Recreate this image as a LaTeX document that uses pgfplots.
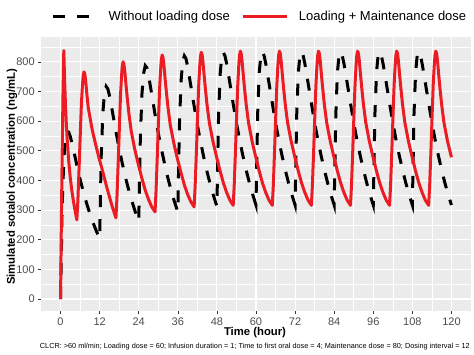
\documentclass[border=0pt]{standalone}
\usepackage{fontspec}
\setmainfont{Liberation Sans}
\usepackage{pgfplots}
\pgfplotsset{compat=1.18}
\definecolor{ggbg}{HTML}{EBEBEB}
\definecolor{ggred}{RGB}{236,28,36}
\definecolor{gray30}{HTML}{4D4D4D}
\definecolor{gray20}{HTML}{333333}
\begin{document}
\begin{tikzpicture}
\path[use as bounding box] (0,0) rectangle (474pt,355pt);
\begin{axis}[
  at={(41pt,43.5pt)}, anchor=south west,
  width=430pt, height=274pt, scale only axis,
  xmin=-6, xmax=126, ymin=-42, ymax=882,
  xtick={0,12,...,120}, ytick={0,100,...,800},
  minor xtick={6,18,...,114}, minor ytick={50,150,...,850},
  grid=both,
  major grid style={white, line width=1.1pt},
  minor grid style={white, line width=0.55pt},
  axis background/.style={fill=ggbg},
  axis line style={draw=none},
  tick pos=left, tick align=outside,
  major tick length=2.75pt, minor tick length=0pt,
  major tick style={gray20, line width=0.55pt},
  ticklabel style={font=\fontsize{11}{12}\selectfont, text=gray30},
  /pgf/number format/assume math mode=true,
  /pgf/number format/1000 sep={},
  legend columns=2,
  legend style={at={(0.509,1.078)}, anchor=center, draw=none, fill=none,
    font=\fontsize{13}{15}\selectfont, inner sep=0pt,
    /tikz/every odd column/.append style={column sep=8pt},
    /tikz/every even column/.append style={column sep=10pt}},
  legend image code/.code={\draw[#1] (0pt,0pt) -- (44pt,0pt);},
]
\addplot[black, line width=3pt, dash pattern=on 12pt off 12pt] coordinates {
(0,0) (0.5,314) (1,470) (1.5,541) (2,565) (2.5,563) (3,548) (4,502) (5,452) (6,404) (7,361) (8,323) (9,288) (10,257) (11,229) (12,204)
(12.5,488) (13,630) (13.5,695) (14,717) (14.5,709) (15,687) (16,627) (17,565) (18,507) (19,455) (20,407) (21,365) (22,327) (23,292) (24,262)
(24.5,546) (25,693) (25.5,761) (26,787) (26.5,780) (27,755) (28,690) (29,623) (30,560) (31,504) (32,453) (33,406) (34,364) (35,327) (36,294)
(36.5,590) (37,736) (37.5,801) (38,820) (38.5,811) (39,785) (40,719) (41,651) (42,587) (43,529) (44,476) (45,428) (46,385) (47,347) (48,312)
(48.5,615) (49,760) (49.5,819) (50,831) (50.5,819) (51,793) (52,727) (53,658) (54,594) (55,535) (56,482) (57,434) (58,391) (59,352) (60,317)
(60.5,622) (61,765) (61.5,823) (62,834) (62.5,820) (63,794) (64,728) (65,660) (66,595) (67,536) (68,483) (69,435) (70,391) (71,352) (72,317)
(72.5,622) (73,765) (73.5,823) (74,834) (74.5,820) (75,794) (76,728) (77,660) (78,595) (79,536) (80,483) (81,435) (82,391) (83,352) (84,317)
(84.5,622) (85,765) (85.5,823) (86,834) (86.5,820) (87,794) (88,728) (89,660) (90,595) (91,536) (92,483) (93,435) (94,391) (95,352) (96,317)
(96.5,622) (97,765) (97.5,823) (98,834) (98.5,820) (99,794) (100,728) (101,660) (102,595) (103,536) (104,483) (105,435) (106,391) (107,352) (108,317)
(108.5,622) (109,765) (109.5,823) (110,834) (110.5,820) (111,794) (112,728) (113,660) (114,595) (115,536) (116,483) (117,435) (118,391) (119,352) (120,317)
};
\addlegendentry{Without loading dose}
\addplot[ggred, line width=3pt, line join=round] coordinates {
(0,0) (0.25,260) (0.5,490) (0.75,690) (1,838) (1.25,739) (1.5,660) (1.75,597) (2,545) (2.5,466) (3,408) (3.5,363) (4,327) (4.5,296) (5,267)
(5.3,328) (5.7,444) (6.1,569) (6.4,657) (6.7,717) (6.95,753) (7.2,766) (7.45,759) (7.75,732) (8.1,689) (8.5,645) (9,615) (9.7,572) (10.8,520) (11.9,472) (13,428) (14,385) (15,345) (16,307) (17,274)
(17.3,338) (17.7,460) (18.1,592) (18.4,685) (18.7,748) (18.95,786) (19.2,800) (19.45,792) (19.75,765) (20.1,721) (20.5,676) (21,624) (21.7,566) (22.8,504) (23.9,453) (25,406) (26,367) (27,336) (28,311) (29,294)
(29.3,359) (29.7,481) (30.1,614) (30.4,707) (30.7,771) (30.95,809) (31.2,823) (31.45,815) (31.75,788) (32.1,743) (32.5,697) (33,645) (33.7,586) (34.8,524) (35.9,472) (37,425) (38,385) (39,353) (40,328) (41,311)
(41.3,375) (41.7,495) (42.1,626) (42.4,718) (42.7,781) (42.95,818) (43.2,832) (43.45,824) (43.75,796) (44.1,752) (44.5,705) (45,652) (45.7,593) (46.8,531) (47.9,479) (49,431) (50,391) (51,359) (52,333) (53,316)
(53.3,379) (53.7,500) (54.1,631) (54.4,722) (54.7,785) (54.95,822) (55.2,836) (55.45,828) (55.75,800) (56.1,755) (56.5,708) (57,655) (57.7,595) (58.8,532) (59.9,480) (61,431) (62,391) (63,359) (64,333) (65,316)
(65.3,379) (65.7,500) (66.1,631) (66.4,722) (66.7,785) (66.95,822) (67.2,836) (67.45,828) (67.75,800) (68.1,755) (68.5,708) (69,655) (69.7,595) (70.8,532) (71.9,480) (73,431) (74,391) (75,359) (76,333) (77,316)
(77.3,379) (77.7,500) (78.1,631) (78.4,722) (78.7,785) (78.95,822) (79.2,836) (79.45,828) (79.75,800) (80.1,755) (80.5,708) (81,655) (81.7,595) (82.8,532) (83.9,480) (85,431) (86,391) (87,359) (88,333) (89,316)
(89.3,379) (89.7,500) (90.1,631) (90.4,722) (90.7,785) (90.95,822) (91.2,836) (91.45,828) (91.75,800) (92.1,755) (92.5,708) (93,655) (93.7,595) (94.8,532) (95.9,480) (97,431) (98,391) (99,359) (100,333) (101,316)
(101.3,379) (101.7,500) (102.1,631) (102.4,722) (102.7,785) (102.95,822) (103.2,836) (103.45,828) (103.75,800) (104.1,755) (104.5,708) (105,655) (105.7,595) (106.8,532) (107.9,480) (109,431) (110,391) (111,359) (112,333) (113,316)
(113.3,379) (113.7,500) (114.1,631) (114.4,722) (114.7,785) (114.95,822) (115.2,836) (115.45,828) (115.75,800) (116.1,755) (116.5,708) (117,655) (117.7,595) (118.8,532) (120,478)
};
\addlegendentry{Loading + Maintenance dose}
\end{axis}
\node[rotate=90, font=\bfseries\fontsize{11.3}{13}\selectfont] at (12pt,178pt) {Simulated sotalol concentration (ng/mL)};
\node[font=\bfseries\fontsize{11.3}{13}\selectfont] at (255pt,22pt) {Time (hour)};
\node[anchor=east, font=\fontsize{7.3}{8}\selectfont, inner sep=0pt] at (470pt,8pt) {CLCR: >60 ml/min; Loading dose = 60; Infusion duration = 1; Time to first oral dose = 4; Maintenance dose = 80; Dosing interval = 12};
\end{tikzpicture}
\end{document}
